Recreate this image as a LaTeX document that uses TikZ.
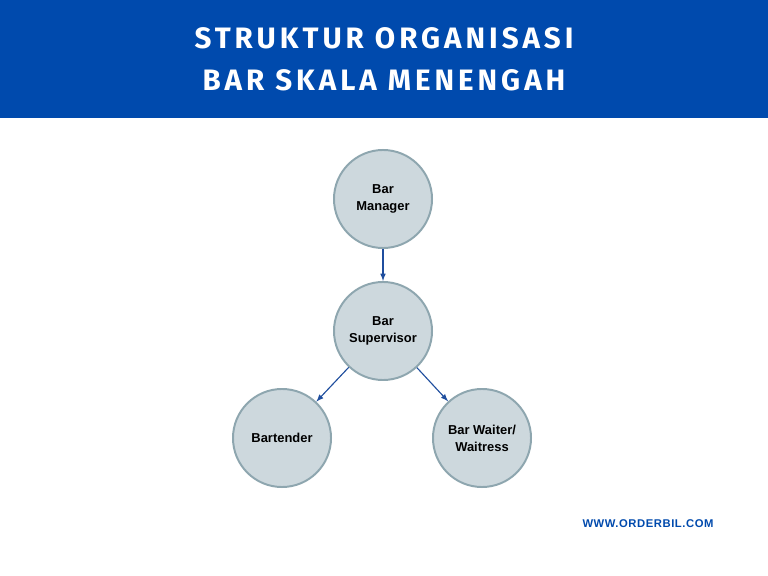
\documentclass[tikz,border=0pt]{standalone}
\usepackage{fontspec}
\setmainfont{Liberation Sans}
\newfontfamily\titlefont[LetterSpace=13.5]{Fira Sans}
\newfontfamily\webfont[LetterSpace=5]{Liberation Sans}
\usetikzlibrary{arrows}
\definecolor{bandblue}{HTML}{004AAD}
\definecolor{linkblue}{HTML}{1F4E9E}
\definecolor{rolefill}{HTML}{CDD8DD}
\definecolor{roleedge}{HTML}{8EA6AF}

\begin{document}
\begin{tikzpicture}[
x=0.025cm, y=-0.025cm,
role/.style={
  draw=roleedge,
  fill=rolefill,
  circle,
  line width=1.4pt,
  minimum size=2.45cm,
  inner sep=0pt,
  align=center,
  font=\fontsize{9.2}{12}\selectfont\bfseries
  },
link/.style={
  ->,
  draw=linkblue,
  line width=0.8pt
  },
>=latex
]
\fill[white] (0,0) rectangle (768,576);
\fill[bandblue] (0,0) rectangle (768,118);

\node[text=white, font=\titlefont\fontsize{21}{29.8}\selectfont\bfseries, align=center]
  (title) at (384,59) {STRUKTUR ORGANISASI\\BAR SKALA MENENGAH};

\node[role] (manager) at (383,199) {Bar\\Manager};
\node[role] (super) at (383,331) {Bar\\Supervisor};
\node[role] (bartender) at (282,438) {Bartender};
\node[role] (waiter) at (482,438) {Bar Waiter/\\Waitress};

\draw[link] (manager) -- (super);
\draw[link] (super) -- (bartender);
\draw[link] (super) -- (waiter);

\node[text=bandblue, font=\webfont\fontsize{8}{10}\selectfont\bfseries]
  (web) at (648,524) {WWW.ORDERBIL.COM};

\end{tikzpicture}
\end{document}
